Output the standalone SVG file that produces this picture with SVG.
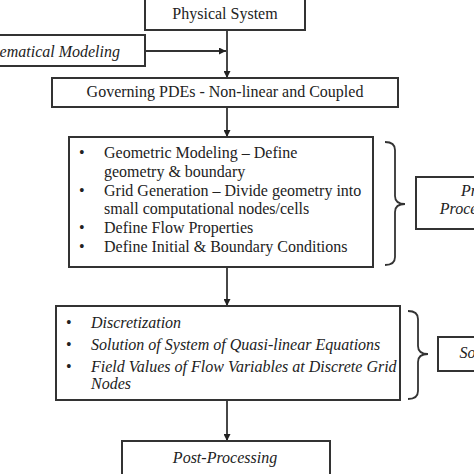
<svg xmlns="http://www.w3.org/2000/svg" width="474" height="474" viewBox="0 0 474 474">
<defs>
<style>
.box{fill:#fff;stroke:#333;stroke-width:2}
.t{font-family:"Liberation Serif","Times New Roman",serif;font-size:16px;fill:#222}
.i{font-style:italic}
.m{text-anchor:middle}
.ln{fill:none;stroke:#333;stroke-width:1.8}
</style>
<marker id="ah" viewBox="0 0 10 10" refX="10" refY="5" markerWidth="7" markerHeight="7" markerUnits="userSpaceOnUse" orient="auto">
<path d="M0,0 L10,5 L0,10 Z" fill="#222"/>
</marker>
</defs>
<rect width="474" height="474" fill="#fff"/>
<g id="connectors">
<line class="ln" x1="227" y1="30" x2="227" y2="78" marker-end="url(#ah)"/>
<line class="ln" x1="145" y1="51" x2="226" y2="51" marker-end="url(#ah)"/>
<line class="ln" x1="227" y1="107" x2="227" y2="137" marker-end="url(#ah)"/>
<line class="ln" x1="227" y1="267" x2="227" y2="306" marker-end="url(#ah)"/>
<line class="ln" x1="227" y1="400" x2="227" y2="441" marker-end="url(#ah)"/>
<path class="ln" d="M385,142 Q395,142 395,150 L395,196 Q395,204 405,204 Q395,204 395,212 L395,257 Q395,265 385,265"/>
<path class="ln" d="M408,311 Q418,311 418,319 L418,346 Q418,354 428,354 Q418,354 418,362 L418,391 Q418,399 408,399"/>
</g>
<g id="physical">
<rect class="box" x="145" y="-2" width="160" height="32"/>
<text class="t m" x="225" y="19">Physical System</text>
</g>
<g id="math">
<rect class="box" x="-60" y="35" width="205" height="31"/>
<text class="t i" x="120" y="57" text-anchor="end">Mathematical Modeling</text>
</g>
<g id="pdes">
<rect class="box" x="52" y="78" width="346" height="29"/>
<text class="t m" x="225" y="97">Governing PDEs - Non-linear and Coupled</text>
</g>
<g id="pre-list">
<rect class="box" x="69" y="137" width="304" height="130"/>
<text class="t" x="79" y="158">•</text>
<text class="t" x="104" y="158">Geometric Modeling – Define</text>
<text class="t" x="104" y="177">geometry &amp; boundary</text>
<text class="t" x="79" y="196">•</text>
<text class="t" x="104" y="196">Grid Generation – Divide geometry into</text>
<text class="t" x="104" y="214">small computational nodes/cells</text>
<text class="t" x="79" y="233">•</text>
<text class="t" x="104" y="233">Define Flow Properties</text>
<text class="t" x="79" y="252">•</text>
<text class="t" x="104" y="252">Define Initial &amp; Boundary Conditions</text>
</g>
<g id="pre">
<rect class="box" x="416" y="177" width="120" height="52"/>
<text class="t i m" x="475" y="196">Pre-</text>
<text class="t i m" x="475" y="214">Processing</text>
</g>
<g id="solver-list">
<rect class="box" x="56" y="306" width="344" height="94"/>
<text class="t" x="66" y="328">•</text>
<text class="t i" x="91" y="328">Discretization</text>
<text class="t" x="66" y="350">•</text>
<text class="t i" x="91" y="350">Solution of System of Quasi-linear Equations</text>
<text class="t" x="66" y="372">•</text>
<text class="t i" x="91" y="372">Field Values of Flow Variables at Discrete Grid</text>
<text class="t i" x="91" y="389">Nodes</text>
</g>
<g id="solver">
<rect class="box" x="438" y="337" width="90" height="34"/>
<text class="t i m" x="480" y="358">Solver</text>
</g>
<g id="post">
<rect class="box" x="122" y="441" width="208" height="40"/>
<text class="t i m" x="225" y="463">Post-Processing</text>
</g>
</svg>
